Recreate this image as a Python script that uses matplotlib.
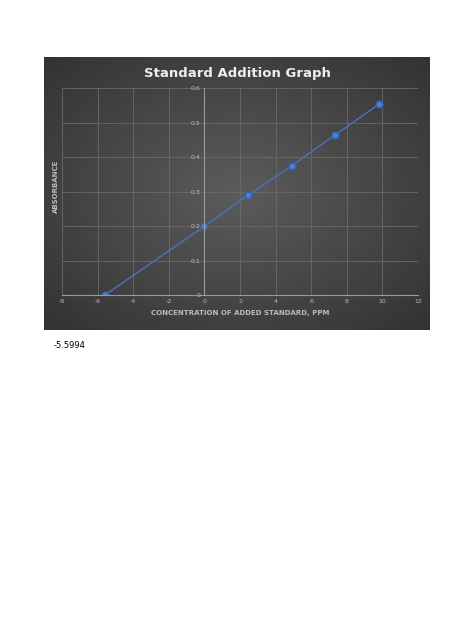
import numpy as np
import matplotlib.pyplot as plt

plt.rcParams["axes.unicode_minus"] = False

# Datos
conc = [-5.5994, 0, 2.45, 4.9, 7.35, 9.8]
absorb = [0, 0.2, 0.29, 0.375, 0.465, 0.553]
x_ticks = [-8, -6, -4, -2, 0, 2, 4, 6, 8, 10, 12]
y_ticks = [0, 0.1, 0.2, 0.3, 0.4, 0.5, 0.6]

fig = plt.figure(figsize=(4.74, 6.32), dpi=100)
fig.patch.set_facecolor("white")

# Fondo oscuro con degradado radial
bg = fig.add_axes([0.093, 0.478, 0.814, 0.432])
yy, xx = np.mgrid[-1:1:200j, -1:1:300j]
r = np.sqrt(xx**2 + yy**2)
bg.imshow(0.36 - 0.16 * np.clip(r, 0, 1.4) / 1.4, cmap="gray", vmin=0, vmax=1,
          aspect="auto", extent=[0, 1, 0, 1])
bg.axis("off")

ax = fig.add_axes([0.131, 0.533, 0.751, 0.3275])
ax.patch.set_alpha(0)
ax.plot(conc, absorb, color="#4a72c4", lw=1, marker="o", ms=5,
        markerfacecolor="#4f7fd0", markeredgecolor="#3060b0")
ax.set_xlim(-8, 12)
ax.set_ylim(0, 0.6)
ax.set_xticks(x_ticks)
ax.set_yticks(y_ticks)
ax.set_yticklabels(["0", "0.1", "0.2", "0.3", "0.4", "0.5", "0.6"])
ax.grid(color="#6a6a6a", lw=0.6)
for s in ["top", "right"]:
    ax.spines[s].set_visible(False)
ax.spines["left"].set_position(("data", 0))
ax.spines["left"].set_color("#9a9a9a")
ax.spines["bottom"].set_color("#9a9a9a")
ax.tick_params(colors="#bbbbbb", labelsize=4.5, length=0, pad=3)
ax.set_xlabel("CONCENTRATION OF ADDED STANDARD, PPM", color="#bbbbbb",
              fontsize=5, fontweight="bold", labelpad=4)
fig.text(0.118, 0.705, "ABSORBANCE", rotation=90, color="#bbbbbb", fontsize=5,
         fontweight="bold", ha="center", va="center")
fig.text(0.5, 0.883, "Standard Addition Graph", color="#eeeeee", fontsize=9.5,
         fontweight="bold", ha="center", va="center")
fig.text(0.113, 0.454, "-5.5994", fontsize=6, color="black", ha="left", va="center")

fig.savefig("out.png", dpi=100)
